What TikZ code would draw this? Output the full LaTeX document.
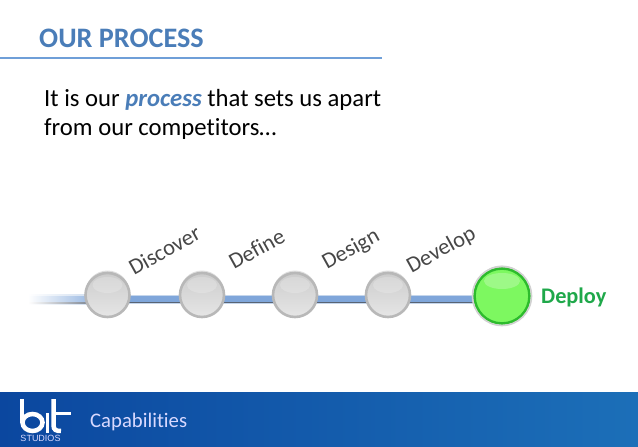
\documentclass[tikz,border=0pt]{standalone}
\usepackage{fontspec}
\setmainfont[Ligatures=NoCommon,Contextuals=NoAlternate]{Carlito}
\newfontfamily\logofont{Liberation Sans}
\usetikzlibrary{backgrounds,shadows}
\definecolor{titleblue}{HTML}{4A7DB8}
\definecolor{rulesblue}{HTML}{6F9FD8}
\definecolor{railblue}{HTML}{7FA6DA}
\definecolor{railpale}{HTML}{C5D6EC}
\definecolor{raildark}{HTML}{596474}
\definecolor{deploygreen}{HTML}{1FA84A}
\definecolor{footerleft}{HTML}{0B479F}
\definecolor{footerright}{HTML}{1C6FB8}
\definecolor{ringgreen}{HTML}{2DBB2D}
\definecolor{ballgreen}{HTML}{7DF860}
\tikzset{
  ball/.style={circle,inner sep=0,minimum size=44,line width=2.6,draw=black!28,
    top color=black!20,bottom color=black!10,drop shadow={opacity=.25,shadow xshift=0,shadow yshift=-2.5}},
  greenball/.style={circle,inner sep=0,minimum size=55,line width=2.6,draw=ringgreen,
    fill=ballgreen,drop shadow={opacity=.3,shadow xshift=0,shadow yshift=-3}},
  step label/.style={anchor=base west,inner sep=0,rotate=29,text=black!72,font=\fontsize{22.5}{22.5}\selectfont},
  logoline/.style={draw=white,line width=4.5,line cap=butt},
}
\begin{document}
\begin{tikzpicture}[x=1pt,y=-1pt]
        \useasboundingbox (0,0) rectangle (638,447);
        % title
        \node (title) [anchor=base west,inner sep=0,text=titleblue,font=\fontsize{28.2}{28.2}\selectfont\bfseries] at (39,47) {OUR PROCESS};
        \coordinate (ruleL) at (0,58);
        \coordinate (ruleR) at (382,58);
        \draw[rulesblue,line width=1.2] (ruleL) -- (ruleR);
        % body text
        \node (lineone) [anchor=base west,inner sep=0,font=\fontsize{24.7}{24.7}\selectfont] at (44,106) {It is our \textcolor{titleblue}{\textbf{\textit{process}}} that sets us apart};
        \node (linetwo) [anchor=base west,inner sep=0,font=\fontsize{24.7}{24.7}\selectfont] at (44,135) {from our competitors…};
        % the balls
        \node (discover) [ball] at (107.5,295) {};
        \node (define) [ball] at (202,295) {};
        \node (design) [ball] at (295,295) {};
        \node (develop) [ball] at (388,295) {};
        \node (deploy) [greenball] at (502,296) {};
        \draw[black!18,line width=1.6] (deploy) circle (29.5);
        \foreach \n in {discover,define,design,develop}
        \fill[white,opacity=.2] ([yshift=10]\n.center) ellipse [x radius=15,y radius=8];
        \fill[white,opacity=.25] ([yshift=15]deploy.center) ellipse [x radius=18,y radius=8];
        % the rail
        \coordinate (railstart) at (28,299);
        \begin{scope}[on background layer]
        \shade[left color=white,right color=railpale] ([yshift=5]railstart) rectangle ([yshift=-9]discover.center);
        \shade[left color=white,right color=railblue] ([yshift=3]railstart) rectangle ([yshift=-7]discover.center);
        \shade[left color=white,right color=raildark] ([yshift=-3]railstart) rectangle ([yshift=-8.5]discover.center);
        \foreach \a/\b in {discover/define,define/design,design/develop,develop/deploy} {
        \draw[railpale,line width=9] ([yshift=-4]\a.center) -- ([yshift=-4]\b.center |- \a.center);
        \draw[railblue,line width=6] ([yshift=-4]\a.center) -- ([yshift=-4]\b.center |- \a.center);
        \draw[raildark,line width=1.3] ([yshift=-7.7]\a.center) -- ([yshift=-7.7]\b.center |- \a.center);
        }
        \end{scope}
        % labels
        \node (discovertxt) [step label] at (134,276) {Discover};
        \node (definetxt) [step label] at (234,270) {Define};
        \node (designtxt) [step label] at (327,270) {Design};
        \node (developtxt) [step label] at (411.5,274) {Develop};
        \node (deploytxt) [anchor=base west,inner sep=0,text=deploygreen,font=\fontsize{22.3}{22.3}\selectfont\bfseries] at (541,303) {Deploy};
        % footer
        \shade[left color=footerleft,right color=footerright] (0,392) rectangle (638,447);
        % logo
        \draw[logoline] (22.2,399) -- (22.2,423);
        \draw[logoline] (32.5,422.5) ellipse [x radius=10,y radius=8.5];
        \draw[logoline,line width=3.2] (47.5,413) -- (47.5,433);
        \draw[logoline] (53.5,399) -- (53.5,425) .. controls (53.5,430) and (56,431) .. (61,431);
        \draw[logoline,line width=3] (53,413) -- (71,413);
        \node (studios) [anchor=base,inner sep=0,text=white!85!blue,font=\logofont\fontsize{9}{9}\selectfont] at (40.5,441.5) {STUDIOS};
        \node (capabilities) [anchor=base west,inner sep=0,text=white!85!blue,font=\fontsize{20.7}{20.7}\selectfont] at (90,427) {Capabilities};
\end{tikzpicture}
\end{document}
